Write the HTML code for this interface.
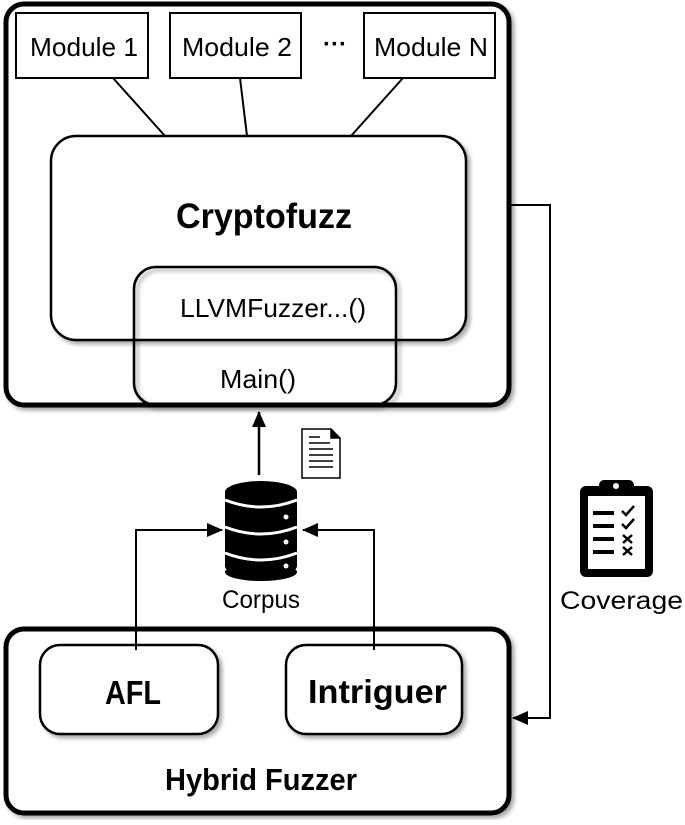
<!DOCTYPE html>
<html><head><meta charset="utf-8"><style>
body{margin:0;background:#fff;}
svg text{font-family:"Liberation Sans","DejaVu Sans",sans-serif;}
</style></head><body>
<svg width="685" height="820" viewBox="0 0 685 820" xmlns="http://www.w3.org/2000/svg">
<defs>
<filter id="sh" x="-10%" y="-10%" width="130%" height="130%"><feDropShadow dx="3" dy="3" stdDeviation="2" flood-color="#000" flood-opacity="0.35"/></filter>
<marker id="ah" markerWidth="16" markerHeight="14" refX="15" refY="7" orient="auto" markerUnits="userSpaceOnUse"><path d="M0,0 L16,7 L0,14 z" fill="#000"/></marker>
</defs>
<g fill="none" stroke="#000">
<rect x="6" y="4" width="503" height="401" rx="18" stroke-width="5" filter="url(#sh)" fill="#fff"/>
<rect x="16" y="13" width="132" height="65" stroke-width="2" fill="#fff"/>
<rect x="170" y="13" width="131" height="65" stroke-width="2" fill="#fff"/>
<rect x="364" y="13" width="131" height="65" stroke-width="2" fill="#fff"/>
<line x1="113" y1="78" x2="165" y2="136" stroke-width="2"/>
<line x1="240" y1="78" x2="247" y2="136" stroke-width="2"/>
<line x1="403" y1="78" x2="351" y2="136" stroke-width="2"/>
<rect x="51" y="136" width="415" height="204" rx="25" stroke-width="2.5" filter="url(#sh)" fill="#fff"/>
<rect x="134" y="267" width="262" height="138" rx="22" stroke-width="2.5" filter="url(#sh)"/>
<line x1="259" y1="475" x2="259" y2="412" stroke-width="2.5" marker-end="url(#ah)"/>
<path d="M136,630 V530 H222" stroke-width="2" marker-end="url(#ah)"/>
<path d="M374,630 V530 H303" stroke-width="2" marker-end="url(#ah)"/>
<path d="M510,205 H550 V718 H513" stroke-width="2" marker-end="url(#ah)"/>
<rect x="6" y="629" width="503" height="184" rx="18" stroke-width="5" filter="url(#sh)" fill="#fff"/>
<rect x="40" y="645" width="178" height="89" rx="20" stroke-width="2.5" filter="url(#sh)" fill="#fff"/>
<rect x="286" y="645" width="176" height="89" rx="20" stroke-width="2.5" filter="url(#sh)" fill="#fff"/>
<line x1="136" y1="629" x2="136" y2="650" stroke-width="2"/>
<line x1="374" y1="629" x2="374" y2="650" stroke-width="2"/>
</g>
<text x="30" y="56" font-size="26" textLength="108" lengthAdjust="spacingAndGlyphs">Module 1</text>
<text x="182" y="56" font-size="26" textLength="110" lengthAdjust="spacingAndGlyphs">Module 2</text>
<text x="374" y="56" font-size="26" textLength="114" lengthAdjust="spacingAndGlyphs">Module N</text>
<text x="335" y="52" font-size="24" text-anchor="middle" font-weight="bold">···</text>
<text x="176" y="228" font-size="35" font-weight="bold" textLength="176" lengthAdjust="spacingAndGlyphs">Cryptofuzz</text>
<text x="180" y="317" font-size="26" textLength="186" lengthAdjust="spacingAndGlyphs">LLVMFuzzer...()</text>
<text x="220" y="388" font-size="26" textLength="76" lengthAdjust="spacingAndGlyphs">Main()</text>
<g stroke="#000" fill="#fff" stroke-width="1.5">
<path d="M302,429 H331 L340,438 V478 H302 z"/>
<path d="M331,429 V438 H340" fill="#000"/>
<path d="M309,437 H320 M309,443 H330 M309,449 H333 M309,455 H333 M309,461 H333 M309,467 H333"/>
</g>
<g>
<rect x="225" y="490" width="72" height="80" rx="4" fill="#000"/>
<ellipse cx="261" cy="492" rx="36" ry="11" fill="#000"/>
<ellipse cx="261" cy="572" rx="36" ry="9" fill="#000"/>
<path d="M225,500 Q261,514 297,500" stroke="#fff" stroke-width="3" fill="none"/>
<path d="M225,527 Q261,541 297,527" stroke="#fff" stroke-width="3" fill="none"/>
<path d="M225,553 Q261,567 297,553" stroke="#fff" stroke-width="3" fill="none"/>
<circle cx="286" cy="517" r="2.5" fill="#fff"/><circle cx="286" cy="542" r="2.5" fill="#fff"/><circle cx="286" cy="566" r="2.5" fill="#fff"/>
</g>
<text x="222" y="608" font-size="25" textLength="78" lengthAdjust="spacingAndGlyphs">Corpus</text>
<g>
<rect x="580" y="486" width="73" height="91" rx="6" fill="#000"/>
<rect x="588" y="496" width="57" height="73" fill="#fff"/>
<rect x="599" y="480" width="35" height="16" rx="5" fill="#000"/>
<circle cx="616" cy="486" r="3" fill="#fff"/>
<g stroke="#000" stroke-width="4"><path d="M593,513 H614 M593,526 H614 M593,539 H614 M593,552 H614"/></g>
<g stroke="#000" stroke-width="2.5" fill="none"><path d="M622,511 L626,515 L634,506 M622,524 L626,528 L634,519 M623,535 L632,543 M632,535 L623,543 M623,547 L632,555 M632,547 L623,555"/></g>
</g>
<text x="560" y="609" font-size="25" textLength="123" lengthAdjust="spacingAndGlyphs">Coverage</text>
<text x="105" y="704" font-size="33" font-weight="bold" textLength="56" lengthAdjust="spacingAndGlyphs">AFL</text>
<text x="308" y="703" font-size="33" font-weight="bold" textLength="139" lengthAdjust="spacingAndGlyphs">Intriguer</text>
<text x="165" y="790" font-size="31" font-weight="bold" textLength="192" lengthAdjust="spacingAndGlyphs">Hybrid Fuzzer</text>
</svg>
</body></html>
